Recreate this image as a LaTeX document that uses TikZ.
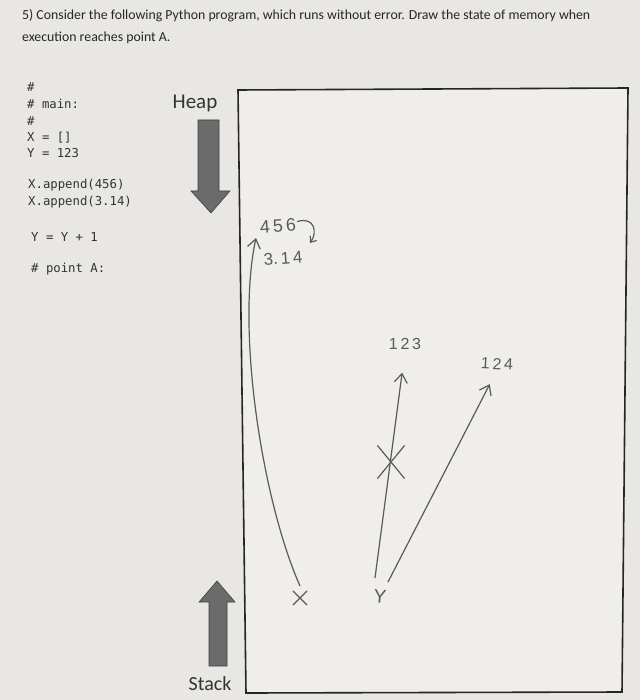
\documentclass[tikz,border=0pt]{standalone}
\usepackage{fontspec}
\setmainfont{Carlito}
\setmonofont{DejaVu Sans Mono}
\newfontfamily\handfont{Liberation Sans}
\usetikzlibrary{arrows.meta,positioning,shapes.misc}

\definecolor{paper}{RGB}{232,231,227}
\definecolor{sheet}{RGB}{239,238,234}
\definecolor{pencil}{RGB}{90,90,90}

\tikzset{
  question/.style={anchor=base west, inner sep=0pt, text=black!85, font=\fontsize{13.8}{15}\selectfont},
  code/.style={anchor=base west, inner sep=0pt, text=black!80, font=\ttfamily\fontsize{12.3}{14}\selectfont},
  label/.style={inner sep=0pt, text=black!80, font=\fontsize{21}{23}\selectfont},
  hand/.style={inner sep=1pt, text=pencil, font=\handfont\fontsize{16}{17}\selectfont},
  ink/.style={draw=pencil, line width=1.2pt},
  inkarrow/.style={ink, -{Straight Barb[length=9pt,width=13pt]}},
  growth/.style={fill=black!58, draw=black!75, line width=0.6pt},
}

\begin{document}
\begin{tikzpicture}[x=1pt,y=-1pt]
\useasboundingbox (0,0) rectangle (640,700);
\fill[paper] (0,0) rectangle (640,700);

% question
\node[question] (q1) at (22,20) {5) Consider the following Python program, which runs without error. Draw the state of memory when};
\node[question] (q2) at (22,42) {execution reaches point A.};

% program
\node[code] (c1) at (27,92) {\#};
\node[code] (c2) at (27,109) {\# main:};
\node[code] (c3) at (27,126) {\#};
\node[code] (c4) at (27,142) {X = []};
\node[code] (c5) at (27,158) {Y = 123};
\node[code] (c6) at (28,189) {X.append(456)};
\node[code] (c7) at (28,206) {X.append(3.14)};
\node[code] (c8) at (31,241) {Y = Y + 1};
\node[code] (c9) at (31,272) {\# point A:};

% memory box
\draw[fill=sheet, line width=1.6pt, draw=black!85] (238,90) -- (628,88) -- (622,692) -- (246,693) -- cycle;

% heap / stack
\node[label] (heap) at (195,103) {Heap};
\draw[growth] (198,120) -- (219,120) -- (219,191) -- (230,191) -- (211,213) -- (191,191) -- (198,191) -- cycle;
\draw[growth] (209,666) -- (227,666) -- (227,602) -- (235,602) -- (217,581) -- (199,602) -- (209,602) -- cycle;
\node[label, font=\fontsize{20}{22}\selectfont] (stack) at (210,684) {Stack};

% heap contents
\node[hand, font=\handfont\fontsize{18}{19}\selectfont, rotate=4] (list456) at (278,226) {4\,5\,6};
\node[hand, font=\handfont\fontsize{17}{18}\selectfont, rotate=4] (list314) at (283,258) {3.\,1\,4};
\coordinate (listin) at (256,238);
\node[hand] (val123) at (405,344) {1\,2\,3};
\node[hand, rotate=-3] (val124) at (497,364) {1\,2\,4};

% stack contents
\node[cross out, draw=pencil, line width=1.2pt, minimum size=13pt] (stackX) at (300,598) {};
\node[hand, font=\handfont\fontsize{19}{20}\selectfont, rotate=-5] (stackY) at (380,597) {Y};

% references
\draw[ink, -{Straight Barb[length=5pt,width=8pt]}] (list456.east) ++(0,-3) .. controls (314,216) and (318,232) .. (310,243);
\draw[inkarrow] ([yshift=12pt]stackX.center) .. controls (262,500) and (236,330) .. (listin);
\draw[inkarrow, shorten >=22pt] ([xshift=-5pt,yshift=19pt]stackY.center) -- (val123.south);
\node[cross out, draw=pencil, line width=1.2pt, minimum width=26pt, minimum height=32pt] (cross) at (391,462) {};
\draw[inkarrow, shorten >=15pt] ([xshift=8pt,yshift=15pt]stackY.center) -- (val124.south);
\end{tikzpicture}
\end{document}
